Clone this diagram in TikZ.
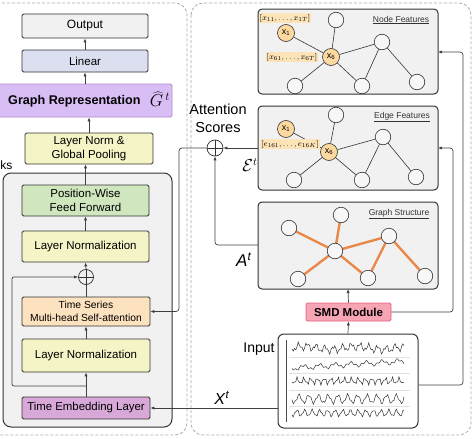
\documentclass[tikz,border=0pt]{standalone}
\usepackage{fontspec}
\setmainfont{Liberation Sans}
\usetikzlibrary{arrows.meta,calc}
\definecolor{cgray}{HTML}{F1F1F1}
\definecolor{clin}{HTML}{DCDFF0}
\definecolor{cgr}{HTML}{D9BDF5}
\definecolor{cgrb}{HTML}{B08AD0}
\definecolor{cyel}{HTML}{F4F4C6}
\definecolor{cgrn}{HTML}{CFE6BF}
\definecolor{corg}{HTML}{FDE2C0}
\definecolor{cte}{HTML}{D8A8D8}
\definecolor{csmd}{HTML}{F7A4B4}
\definecolor{csmdb}{HTML}{E06080}
\definecolor{cnode}{HTML}{FCD9A0}
\definecolor{clab}{HTML}{FDE3B8}
\definecolor{cedge}{HTML}{E8894A}
\definecolor{cdash}{HTML}{AAAAAA}
\tikzset{
  box/.style={rectangle, draw=black!80, line width=0.8pt, rounded corners=1.5pt, align=center, inner sep=0pt},
  panel/.style={draw=black!80, line width=1pt, rounded corners=4pt, fill=cgray},
  arr/.style={-{Latex[length=4pt,width=3.2pt]}, line width=0.7pt, draw=black!75},
  conn/.style={line width=0.7pt, draw=black!75},
  gnode/.style={circle, draw=black!80, line width=0.6pt, fill=white!97!black, minimum size=15.5pt, inner sep=0pt},
  onode/.style={gnode, fill=cnode, minimum size=17pt, font=\fontsize{9}{10}\selectfont},
  vlab/.style={fill=clab, inner sep=1pt, font=\fontsize{8.3}{9}\selectfont},
  ttl/.style={font=\fontsize{8.5}{9}\selectfont, text=black!80},
  gedge/.style={line width=0.6pt, draw=black!80},
  oedge/.style={line width=2.4pt, draw=cedge},
  pls/.style={circle, draw=black!80, line width=0.7pt, minimum size=15pt, inner sep=0pt},
  dpanel/.style={draw=cdash, dashed, dash pattern=on 3pt off 2pt, line width=0.8pt, rounded corners=12pt},
  series/.style={line width=0.5pt, draw=black!80}
}
\begin{document}
\begin{tikzpicture}[x=1pt,y=-1pt]
\useasboundingbox (0,0) rectangle (474,439);
\clip (0,0) rectangle (474,439);
% dashed panels
\draw[dpanel] (-15,3) rectangle (187,435);
\draw[dpanel] (191,3) rectangle (471,435);

% ---------- left column ----------
\node[box, fill=cgray, minimum width=126pt, minimum height=24pt, font=\fontsize{12}{13}\selectfont] (out) at (85,26) {Output};
\node[box, fill=clin, minimum width=126pt, minimum height=22pt, font=\fontsize{11.5}{13}\selectfont] (lin) at (85,61) {Linear};
\node[box, fill=cgr, draw=cgrb, minimum width=182pt, minimum height=33pt] (gr) at (81,100.5) {};
\node[font=\fontsize{12.6}{14}\selectfont\bfseries, anchor=west, inner sep=0pt] (grt) at (8,101) {Graph Representation};
\node[font=\fontsize{17}{18}\selectfont, inner sep=0pt] (grg) at (160,99) {$\widehat{G}^{\,t}$};
\node[box, fill=cyel, minimum width=128pt, minimum height=31pt, font=\fontsize{11.5}{13.5}\selectfont] (lngp) at (89,148.5) {Layer Norm \&\\Global Pooling};
\node[font=\fontsize{12}{13}\selectfont, anchor=east, inner sep=0pt] (ks) at (12.5,165) {ks};
\draw[panel, rounded corners=8pt] (3,173) rectangle (172,427);
\node[box, fill=cgrn, minimum width=127pt, minimum height=31pt, font=\fontsize{11.5}{14}\selectfont] (pwff) at (85.5,200.5) {Position-Wise\\Feed Forward};
\node[box, fill=cyel, minimum width=127pt, minimum height=31pt, font=\fontsize{11.5}{13}\selectfont] (ln2) at (85.5,246.5) {Layer Normalization};
\node[pls] (plus) at (86,277) {};
\draw[line width=0.7pt, black!80] (plus.north) -- (plus.south) (plus.west) -- (plus.east);
\node[box, fill=corg, minimum width=128pt, minimum height=29pt, font=\fontsize{10.3}{12.5}\selectfont] (tsa) at (86,311.5) {Time Series\\Multi-head Self-attention};
\node[box, fill=cyel, minimum width=128pt, minimum height=33pt, font=\fontsize{11.5}{13}\selectfont] (ln1) at (86,355.5) {Layer Normalization};
\node[box, fill=cte, minimum width=128pt, minimum height=22pt, font=\fontsize{11.4}{13}\selectfont] (te) at (86,408) {Time Embedding Layer};

\draw[arr] (te.north) -- (ln1.south);
\draw[arr] (ln1.north) -- (tsa.south);
\draw[conn] (tsa.north) -- (plus.south);
\draw[arr] (plus.north) -- (ln2.south);
\draw[arr] (ln2.north) -- (pwff.south);
\draw[arr] (pwff.north) -- (pwff.north |- lngp.south);
\draw[arr] (lngp.north) -- (lngp.north |- gr.south);
\draw[arr] (gr.north -| lin.south) -- (lin.south);
\draw[arr] (lin.north) -- (out.south);
\coordinate (rs) at (86,386);
\draw[arr, rounded corners=2pt] (rs) -| (12,277) -- (plus.west);

% ---------- right column ----------
\draw[panel] (258,9) rectangle (438,94);
\coordinate (nfE) at (438,52);
\draw[panel] (258,106) rectangle (438,190);
\coordinate (efE) at (438,148);
\coordinate (efW) at (258,148);
\draw[panel] (258,202) rectangle (438,289);
\coordinate (gsW) at (258,245);
\coordinate (gsS) at (348,289);
\node[box, fill=csmd, draw=csmdb, minimum width=85pt, minimum height=18pt, font=\fontsize{11.5}{12}\selectfont\bfseries] (smd) at (348.5,312) {SMD Module};
\node[box, fill=white, line width=1pt, rounded corners=6pt, minimum width=140pt, minimum height=94pt] (inp) at (348,381) {};

% node features graph
\node[ttl] (tnf) at (401,20) {\underline{Node Features}};
\node[gnode] (a1) at (336,20) {};
\node[onode] (a2) at (286,33) {x\textsubscript{1}};
\node[onode] (a6) at (331,57) {x\textsubscript{6}};
\node[gnode] (a3) at (382,42) {};
\node[gnode] (a4) at (295,86) {};
\node[gnode] (a5) at (362,86) {};
\node[gnode] (a7) at (417,82) {};
\draw[gedge] (a2) -- (a6) (a1) -- (a6) (a6) -- (a3) (a6) -- (a4) (a6) -- (a5) (a3) -- (a5) (a3) -- (a7);
\node[vlab] (l1) at (285,18) {$[x_{11},\ldots,x_{1T}]$};
\node[vlab] (l6) at (292,57) {$[x_{61},\ldots,x_{6T}]$};

% edge features graph
\node[ttl] (tef) at (402,117) {\underline{Edge Features}};
\node[gnode] (b1) at (336,115) {};
\node[onode] (b2) at (286,129) {x\textsubscript{1}};
\node[onode] (b6) at (329,152) {x\textsubscript{6}};
\node[gnode] (b3) at (383,137) {};
\node[gnode] (b4) at (294,180) {};
\node[gnode] (b5) at (362,180) {};
\node[gnode] (b7) at (416,177) {};
\draw[gedge] (b2) -- (b6) (b1) -- (b6) (b6) -- (b3) (b6) -- (b4) (b6) -- (b5) (b3) -- (b5) (b3) -- (b7);
\node[vlab] (le) at (290,144) {$[e_{161},\ldots,e_{16K}]$};

% graph structure
\node[ttl] (tgs) at (399,214) {\underline{Graph Structure}};
\coordinate (c1) at (341,215);
\coordinate (c2) at (289,228);
\coordinate (c6) at (335,251);
\coordinate (c3) at (389,236);
\coordinate (c4) at (298,279);
\coordinate (c5) at (368,278);
\coordinate (c7) at (425,276);
\draw[oedge] (c1) -- (c6) (c2) -- (c6) (c6) -- (c3) (c6) -- (c4) (c6) -- (c5) (c3) -- (c5) (c3) -- (c7);
\foreach \n in {c1,c2,c6,c3,c4,c5,c7} \node[gnode] at (\n) {};

% input series
\draw[line width=0.6pt, black!70] (286,340) -- (286,422);
\foreach \yy in {357,373,390,406} \draw[line width=0.4pt, black!12] (289,\yy) -- (410,\yy);
\draw[series] plot[domain=0:112, samples=90] ({292+\x}, {348 + 3*sin(\x*41) + 2*sin(\x*97+30) - 1.5*sin(\x*7)});
\draw[series] plot[domain=0:112, samples=90] ({292+\x}, {368 - 0.06*\x + 2*sin(\x*23) + 1.2*sin(\x*71+20)});
\draw[series] plot[domain=0:112, samples=90] ({292+\x}, {381 + 2.5*sin(\x*53) + 1.8*sin(\x*113+50)});
\draw[series] plot[domain=0:112, samples=90] ({292+\x}, {399 + 4*sin(\x*37+10) + 1.5*sin(\x*89)});
\draw[series] plot[domain=0:112, samples=90] ({292+\x}, {413 + 3*sin(\x*47+40) + 1.2*sin(\x*103)});

% right connectors
\draw[arr] (inp.north) -- (smd.south);
\draw[arr] (smd.north) -- (gsS);
\draw[arr, rounded corners=3pt] (smd.east) -- (453,312) -- (453,148) -- (efE);
\draw[arr, rounded corners=3pt] (inp.east |- 0,385) -- (463,385) -- (463,52) -- (nfE);

% attention sum
\node[pls, minimum size=16pt] (att) at (215,148) {};
\draw[line width=0.7pt, black!80] (att.north) -- (att.south) (att.west) -- (att.east);
\node[font=\fontsize{14.5}{18}\selectfont, align=center] (atl) at (218,118) {Attention\\Scores};
\draw[arr] (efW) -- (att.east);
\draw[arr, rounded corners=3pt] (gsW) -| (att.south);
\draw[arr, rounded corners=3pt] (att.west) -- (179,148) |- (tsa.east);
\node[font=\fontsize{16}{17}\selectfont] (elab) at (250,165) {$\mathcal{E}^{t}$};
\node[font=\fontsize{17}{18}\selectfont] (alab) at (244,260) {\textit{A}\textsuperscript{\textit{t}}};
\node[font=\fontsize{14}{15}\selectfont] (inl) at (259,349) {Input};
\draw[arr] (te.east -| inp.west) -- (te.east);
\node[font=\fontsize{16}{17}\selectfont] (xlab) at (222,398) {\textit{X}\textsuperscript{\textit{t}}};
\end{tikzpicture}
\end{document}
